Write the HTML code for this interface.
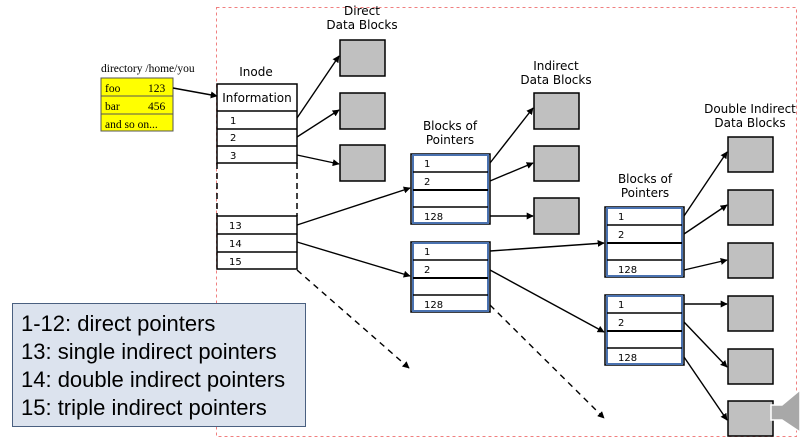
<!DOCTYPE html>
<html><head><meta charset="utf-8"><style>
html,body{margin:0;padding:0;background:#fff;width:800px;height:440px;overflow:hidden}
svg{display:block}
.s{font-family:"DejaVu Sans","Liberation Sans",sans-serif;font-size:12px;fill:#000}
.r{font-family:"DejaVu Sans","Liberation Sans",sans-serif;font-size:10px;fill:#000}
.y{font-family:"Liberation Serif",serif;font-size:11.5px;fill:#000}
.blk{fill:#c0c0c0;stroke:#000;stroke-width:1.5}
.ln{stroke:#000;stroke-width:1.4;fill:none}
</style></head><body>
<svg width="800" height="440" viewBox="0 0 800 440" xmlns="http://www.w3.org/2000/svg">
<defs>
<marker id="a" viewBox="0 0 10 10" refX="9" refY="5" markerWidth="7" markerHeight="7" orient="auto" markerUnits="userSpaceOnUse"><path d="M0,0L10,5L0,10z" fill="#000"/></marker>
</defs>
<rect x="216.5" y="7.5" width="580" height="429" fill="none" stroke="#f08080" stroke-width="1" stroke-dasharray="3,3"/>

<!-- directory -->
<text x="101" y="72" class="y" font-size="13">directory /home/you</text>
<rect x="101" y="78" width="72" height="53" fill="#ffff00" stroke="#555" stroke-width="1"/>
<line x1="101" y1="96" x2="173" y2="96" stroke="#555"/>
<line x1="101" y1="114" x2="173" y2="114" stroke="#555"/>
<text x="105" y="92" class="y">foo</text><text x="148" y="92" class="y">123</text>
<text x="105" y="110" class="y">bar</text><text x="148" y="110" class="y">456</text>
<text x="105" y="128" class="y">and so on...</text>
<line x1="173" y1="88" x2="217" y2="96" class="ln" marker-end="url(#a)"/>

<!-- inode -->
<text x="256" y="76" class="s" text-anchor="middle">Inode</text>
<rect x="217" y="84" width="80" height="79" fill="#fff" stroke="#000" stroke-width="1.5"/>
<line x1="217" y1="111" x2="297" y2="111" class="ln"/>
<line x1="217" y1="129" x2="297" y2="129" class="ln"/>
<line x1="217" y1="146" x2="297" y2="146" class="ln"/>
<text x="257" y="102" class="s" text-anchor="middle">Information</text>
<text x="230" y="124" class="r">1</text><text x="230" y="141" class="r">2</text><text x="230" y="159" class="r">3</text>
<line x1="217" y1="163" x2="217" y2="216" stroke="#000" stroke-width="1.5" stroke-dasharray="6,4"/>
<line x1="297" y1="163" x2="297" y2="216" stroke="#000" stroke-width="1.5" stroke-dasharray="6,4"/>
<rect x="217" y="216" width="80" height="53" fill="#fff" stroke="#000" stroke-width="1.5"/>
<line x1="217" y1="234" x2="297" y2="234" class="ln"/>
<line x1="217" y1="252" x2="297" y2="252" class="ln"/>
<text x="229" y="229" class="r">13</text><text x="229" y="247" class="r">14</text><text x="229" y="265" class="r">15</text>

<!-- direct -->
<text x="362" y="15" class="s" text-anchor="middle">Direct</text>
<text x="362" y="29" class="s" text-anchor="middle">Data Blocks</text>
<rect x="340" y="40" width="45" height="36" class="blk"/>
<rect x="340" y="93" width="45" height="36" class="blk"/>
<rect x="340" y="145" width="45" height="36" class="blk"/>
<line x1="297" y1="118" x2="339" y2="56" class="ln" marker-end="url(#a)"/>
<line x1="297" y1="137" x2="339" y2="110" class="ln" marker-end="url(#a)"/>
<line x1="297" y1="155" x2="339" y2="164" class="ln" marker-end="url(#a)"/>

<!-- level1 pointer blocks -->
<text x="450" y="130" class="s" text-anchor="middle">Blocks of</text>
<text x="450" y="144" class="s" text-anchor="middle">Pointers</text>
<g id="pb1">
<rect x="411" y="154" width="79" height="70" fill="#fff" stroke="#000" stroke-width="1.5"/>
<rect x="413" y="155" width="75" height="68" fill="none" stroke="#4a72b0" stroke-width="2"/>
<line x1="413" y1="172" x2="488" y2="172" class="ln"/>
<line x1="413" y1="190" x2="488" y2="190" stroke="#000" stroke-width="2"/>
<line x1="413" y1="207" x2="488" y2="207" class="ln"/>
<text x="424" y="167" class="r">1</text><text x="424" y="185" class="r">2</text><text x="424" y="220" class="r">128</text>
</g>
<use href="#pb1" transform="translate(0,88)"/>

<text x="556" y="70" class="s" text-anchor="middle">Indirect</text>
<text x="556" y="84" class="s" text-anchor="middle">Data Blocks</text>
<rect x="534" y="93" width="45" height="36" class="blk"/>
<rect x="534" y="146" width="45" height="35" class="blk"/>
<rect x="534" y="198" width="45" height="36" class="blk"/>

<line x1="297" y1="225" x2="410" y2="188" class="ln" marker-end="url(#a)"/>
<line x1="297" y1="242" x2="410" y2="276" class="ln" marker-end="url(#a)"/>
<line x1="297" y1="270" x2="409" y2="368" class="ln" stroke-dasharray="6,5" marker-end="url(#a)"/>
<line x1="490" y1="163" x2="533" y2="108" class="ln" marker-end="url(#a)"/>
<line x1="490" y1="181" x2="533" y2="163" class="ln" marker-end="url(#a)"/>
<line x1="490" y1="216" x2="533" y2="216" class="ln" marker-end="url(#a)"/>
<line x1="490" y1="251" x2="604" y2="243" class="ln" marker-end="url(#a)"/>
<line x1="490" y1="270" x2="604" y2="332" class="ln" marker-end="url(#a)"/>
<line x1="490" y1="305" x2="604" y2="418" class="ln" stroke-dasharray="6,5" marker-end="url(#a)"/>

<!-- level2 -->
<text x="645" y="183" class="s" text-anchor="middle">Blocks of</text>
<text x="645" y="197" class="s" text-anchor="middle">Pointers</text>
<use href="#pb1" transform="translate(194,53)"/>
<use href="#pb1" transform="translate(194,141)"/>

<text x="750" y="113" class="s" text-anchor="middle">Double Indirect</text>
<text x="750" y="127" class="s" text-anchor="middle">Data Blocks</text>
<rect x="728" y="137" width="45" height="35" class="blk"/>
<rect x="728" y="190" width="45" height="35" class="blk"/>
<rect x="728" y="243" width="45" height="35" class="blk"/>
<rect x="728" y="296" width="45" height="35" class="blk"/>
<rect x="728" y="349" width="45" height="35" class="blk"/>
<rect x="728" y="401" width="45" height="35" class="blk"/>
<line x1="684" y1="216" x2="727" y2="152" class="ln" marker-end="url(#a)"/>
<line x1="684" y1="234" x2="727" y2="205" class="ln" marker-end="url(#a)"/>
<line x1="684" y1="270" x2="727" y2="260" class="ln" marker-end="url(#a)"/>
<line x1="684" y1="304" x2="727" y2="304" class="ln" marker-end="url(#a)"/>
<line x1="684" y1="322" x2="727" y2="367" class="ln" marker-end="url(#a)"/>
<line x1="684" y1="357" x2="727" y2="420" class="ln" marker-end="url(#a)"/>

<!-- speaker -->
<path d="M771,405 L782,405 L800,390 L800,432 L782,420 L771,420z" fill="#a8a8a8" stroke="#fff" stroke-width="1.5"/>

<!-- legend -->
<rect x="12.5" y="303.5" width="293" height="123" fill="#dce3ee" stroke="#4a6080" stroke-width="1"/>
<g font-family="'Liberation Sans',sans-serif" font-size="22" fill="#000">
<text x="21" y="331">1-12: direct pointers</text>
<text x="21" y="359">13: single indirect pointers</text>
<text x="21" y="387">14: double indirect pointers</text>
<text x="21" y="415">15: triple indirect pointers</text>
</g>
</svg>
</body></html>
